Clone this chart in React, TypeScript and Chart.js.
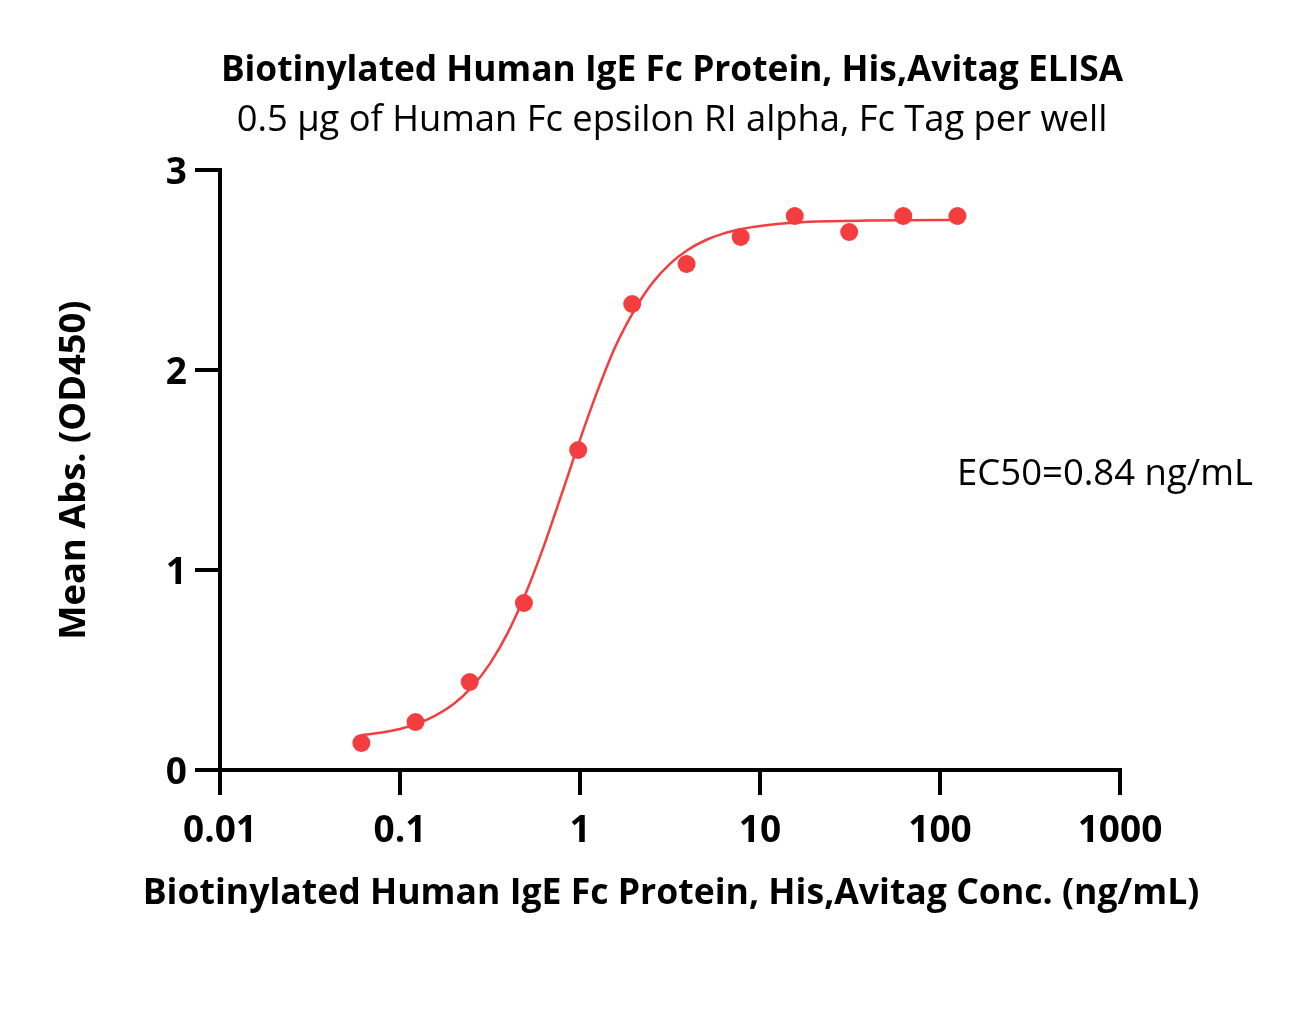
import React, { useEffect, useRef } from "react";
import { Chart, registerables } from "chart.js";

Chart.register(...registerables);

// Measured ELISA points (concentration in ng/mL, mean OD450)
const concentrations = [0.061, 0.122, 0.244, 0.488, 0.977, 1.95, 3.91, 7.81, 15.6, 31.3, 62.5, 125];
const meanAbs = [0.135, 0.24, 0.44, 0.835, 1.6, 2.33, 2.53, 2.665, 2.77, 2.69, 2.77, 2.77];

// Fitted dose-response curve, sampled along the concentration range
const fitConc = [0.0615, 0.0794, 0.1, 0.126, 0.158, 0.2, 0.251, 0.316, 0.398, 0.501, 0.631, 0.794, 1, 1.26, 1.58, 2, 2.51, 3.16, 3.98, 5.01, 6.31, 7.94, 10, 15.8, 25.1, 39.8, 63.1, 125];
const fitAbs = [0.175, 0.187, 0.205, 0.233, 0.273, 0.332, 0.416, 0.532, 0.688, 0.886, 1.122, 1.384, 1.652, 1.903, 2.121, 2.297, 2.432, 2.531, 2.601, 2.65, 2.683, 2.705, 2.72, 2.737, 2.744, 2.747, 2.749, 2.75];

const xTickValues = [0.01, 0.1, 1, 10, 100, 1000];
const xTickLabels = ["0.01", "0.1", "1", "10", "100", "1000"];
const yTickValues = [0, 1, 2, 3];
const yTickLabels = ["0", "1", "2", "3"];

const titleText = "Biotinylated Human IgE Fc Protein, His,Avitag ELISA";
const subtitleText = "0.5 μg of Human Fc epsilon RI alpha, Fc Tag per well";
const xTitleText = "Biotinylated Human IgE Fc Protein, His,Avitag Conc. (ng/mL)";
const yTitleText = "Mean Abs. (OD450)";
const ec50Text = "EC50=0.84 ng/mL";

const RED = "rgb(243, 61, 63)";
const FONT = "'Open Sans', 'Noto Sans', sans-serif";

const W = 1295;
const H = 1014;

// Titles, x-axis caption and the EC50 annotation
const textPlugin = {
  id: "chartText",
  afterDraw(chart: any) {
    const { ctx, chartArea } = chart;
    const cx = (chartArea.left + chartArea.right) / 2 + 2;
    ctx.save();
    ctx.fillStyle = "#000";
    ctx.textAlign = "center";
    ctx.textBaseline = "middle";
    ctx.font = `bold 35.3px ${FONT}`;
    ctx.fillText(titleText, cx, 70.5);
    ctx.font = `36.3px ${FONT}`;
    ctx.fillText(subtitleText, cx, 121);
    ctx.font = `bold 35.6px ${FONT}`;
    ctx.fillText(xTitleText, cx - 1, 893.5);
    ctx.textAlign = "left";
    ctx.font = `36.5px ${FONT}`;
    ctx.fillText(ec50Text, 957, 475);
    ctx.restore();
  },
};

export default function App() {
  const ref = useRef<HTMLCanvasElement | null>(null);

  useEffect(() => {
    if (!ref.current) return;
    const chart = new Chart(ref.current, {
      type: "scatter",
      data: {
        datasets: [
          {
            type: "line",
            data: fitConc.map((x, i) => ({ x, y: fitAbs[i] })),
            borderColor: RED,
            borderWidth: 2.5,
            pointRadius: 0,
            cubicInterpolationMode: "monotone",
            fill: false,
          },
          {
            type: "scatter",
            data: concentrations.map((x, i) => ({ x, y: meanAbs[i] })),
            backgroundColor: RED,
            borderColor: RED,
            pointRadius: 9,
            borderWidth: 0,
          },
        ],
      },
      options: {
        responsive: false,
        animation: false,
        layout: { padding: { top: 170, right: 175, left: 0, bottom: 0 } },
        plugins: {
          legend: { display: false },
          tooltip: { enabled: false },
        },
        scales: {
          x: {
            type: "logarithmic",
            min: 0.01,
            max: 1000,
            afterBuildTicks: (scale: any) => {
              scale.ticks = xTickValues.map((value) => ({ value }));
            },
            afterFit: (scale: any) => {
              scale.height = 244;
            },
            ticks: {
              autoSkip: false,
              maxRotation: 0,
              padding: 14,
              color: "#000",
              font: { family: FONT, size: 37, weight: "bold" },
              callback: (value: any) => {
                const i = xTickValues.indexOf(Number(value));
                return i >= 0 ? xTickLabels[i] : "";
              },
            },
            grid: {
              display: true,
              drawOnChartArea: false,
              drawTicks: true,
              tickLength: 25,
              lineWidth: 4,
              color: "#000",
            },
            border: { display: true, width: 4, color: "#000" },
            title: { display: false },
          },
          y: {
            type: "linear",
            min: 0,
            max: 3,
            afterBuildTicks: (scale: any) => {
              scale.ticks = yTickValues.map((value) => ({ value }));
            },
            afterFit: (scale: any) => {
              scale.width = 220;
            },
            ticks: {
              padding: 8,
              labelOffset: 3,
              color: "#000",
              font: { family: FONT, size: 37, weight: "bold" },
              callback: (value: any) => {
                const i = yTickValues.indexOf(Number(value));
                return i >= 0 ? yTickLabels[i] : "";
              },
            },
            grid: {
              display: true,
              drawOnChartArea: false,
              drawTicks: true,
              tickLength: 25,
              lineWidth: 4,
              color: "#000",
            },
            border: { display: true, width: 4, color: "#000" },
            title: {
              display: true,
              text: yTitleText,
              color: "#000",
              font: { family: FONT, size: 36.3, weight: "bold" },
              padding: { top: 53, bottom: 0 },
            },
          },
        },
      },
      plugins: [textPlugin],
    } as any);
    return () => chart.destroy();
  }, []);

  return (
    <div style={{ position: "absolute", left: 0, top: 0, width: W, height: H, background: "#fff" }}>
      <canvas ref={ref} width={W} height={H} style={{ display: "block", width: W, height: H }} />
    </div>
  );
}
